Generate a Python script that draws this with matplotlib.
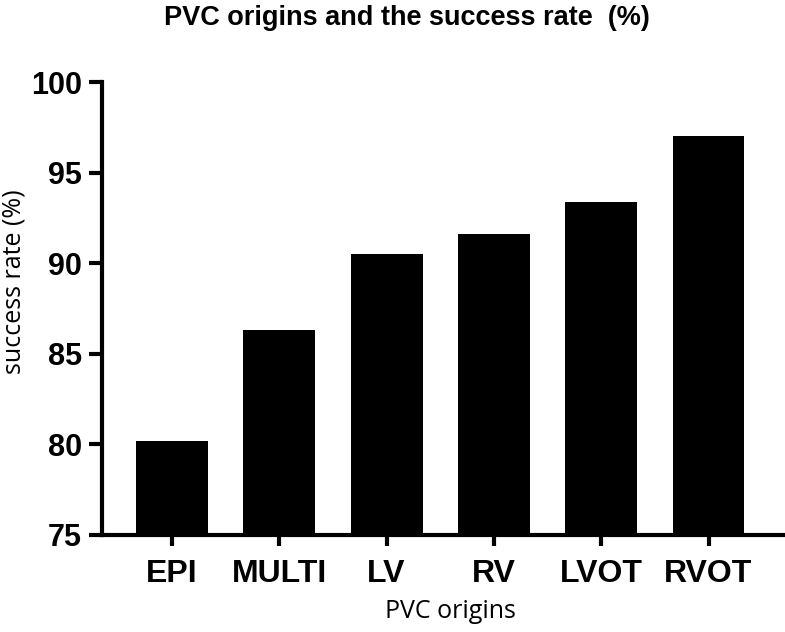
import matplotlib
matplotlib.use("Agg")
import matplotlib.pyplot as plt

categories = ["EPI", "MULTI", "LV", "RV", "LVOT", "RVOT"]
success_rate = [80.2, 86.3, 90.5, 91.6, 93.4, 97.0]
yticks = [75, 80, 85, 90, 95, 100]

W, H = 785, 632
fig = plt.figure(figsize=(W / 100, H / 100), dpi=100)
ax = fig.add_axes([102 / W, 1 - 535 / H, 681 / W, 453 / H])

x = list(range(len(categories)))
ax.bar(x, success_rate, width=0.67, color="black")
ax.set_ylim(75, 100)
ax.set_xlim(-0.652, 5.694)

for s in ["top", "right"]:
    ax.spines[s].set_visible(False)
for s in ["left", "bottom"]:
    ax.spines[s].set_linewidth(3)
    ax.spines[s].set_capstyle("projecting")

ax.set_yticks(yticks)
ax.set_yticklabels([str(v) for v in yticks], fontsize=22, fontweight="bold",
                   family="Liberation Sans")
ax.set_xticks(x)
ax.set_xticklabels(categories, fontsize=23, fontweight="bold",
                   family="Liberation Sans")
ax.tick_params(axis="y", length=9.5, width=3, pad=5)
ax.tick_params(axis="x", length=8, width=3, pad=9)

fig.text(14 / W, 1 - 282 / H, "success rate (%)", rotation=90,
         ha="center", va="center", fontsize=18, family="Open Sans")
fig.text(450 / W, 1 - 612 / H, "PVC origins",
         ha="center", va="center", fontsize=18, family="Open Sans")

fig.text(407 / W, 1 - 18 / H, "PVC origins and the success rate  (%)",
         ha="center", va="center", fontsize=19.5, fontweight="bold",
         family="Liberation Sans")

fig.savefig("out.png", dpi=100)
